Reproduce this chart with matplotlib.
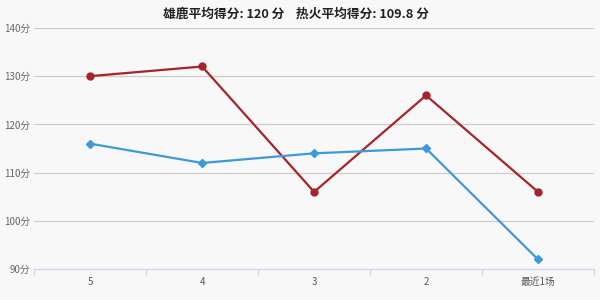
import matplotlib.pyplot as plt
import numpy as np

plt.rcParams['font.family'] = ['Noto Sans CJK SC', 'DejaVu Sans']

categories = ['5', '4', '3', '2', '最近1场']
bucks = [130, 132, 106, 126, 106]
heat = [116, 112, 114, 115, 92]
yticks = [90, 100, 110, 120, 130, 140]

fig = plt.figure(figsize=(6, 3), dpi=100, facecolor='#f8f8f8')
ax = fig.add_axes([0.057, 0.103, 0.933, 0.804], facecolor='#f8f8f8')

x = np.arange(len(categories))
ax.plot(x, bucks, color='#a8232a', lw=1.6, marker='o', ms=5, zorder=3)
ax.plot(x, heat, color='#3d9ad9', lw=1.6, marker='D', ms=3.8, zorder=3)

ax.set_xlim(-0.5, len(categories) - 0.5)
ax.set_ylim(90, 140)
ax.set_yticks(yticks)
ax.set_yticklabels([f'{v}分' for v in yticks], fontsize=7, color='#666666')
ax.tick_params(axis='y', length=0, pad=3)
for v in yticks[1:]:
    ax.axhline(v, color='#cccccc', lw=0.9, zorder=1)

ax.set_xticks(x)
ax.set_xticklabels(categories, fontsize=7, color='#555555')
ax.set_xticks(np.arange(len(categories) + 1) - 0.5, minor=True)
ax.tick_params(axis='x', which='major', length=0, pad=6)
ax.tick_params(axis='x', which='minor', length=4, color='#ccd6eb', width=0.9)

for s in ['top', 'right', 'left']:
    ax.spines[s].set_visible(False)
ax.spines['bottom'].set_color('#ccd6eb')
ax.spines['bottom'].set_linewidth(0.9)

fig.text(0.494, 0.952, '雄鹿平均得分: 120 分    热火平均得分: 109.8 分',
         ha='center', va='center', fontsize=9.2, fontweight='bold', color='#222222')

fig.savefig('out.png', dpi=100, facecolor=fig.get_facecolor())
